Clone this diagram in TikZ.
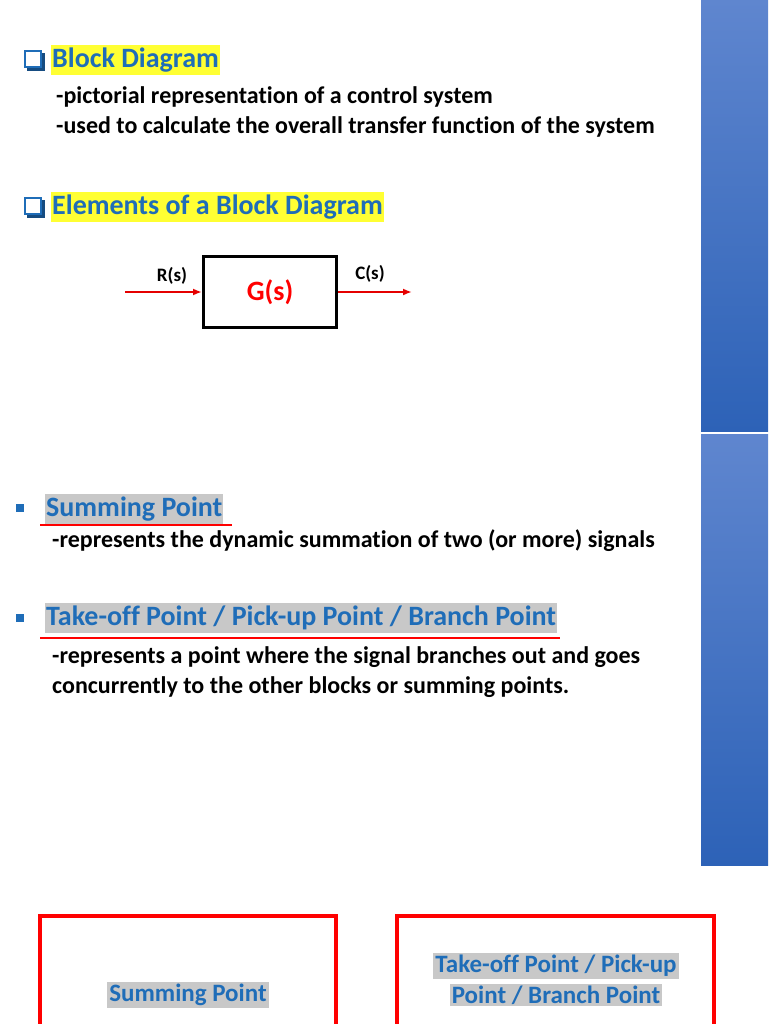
\documentclass[tikz,border=0pt]{standalone}
\usepackage{fontspec}
\setmainfont{Carlito}[Ligatures=NoCommon]
\usetikzlibrary{arrows.meta}
\begin{document}
\begin{tikzpicture}[x=1pt,y=-1pt,
  head/.style={anchor=west,font=\bfseries\fontsize{28}{30}\selectfont,text=hblue,inner xsep=1pt,inner ysep=3pt},
  body/.style={anchor=west,font=\bfseries\fontsize{24}{26}\selectfont,inner sep=0pt},
  sig/.style={red!90!black,line width=2pt,-{Latex[length=9pt,width=7pt]}},
  lbl/.style={font=\bfseries\fontsize{19}{21}\selectfont}]
\definecolor{hblue}{HTML}{1F6DB8}
\definecolor{barT}{HTML}{5F86CF}
\definecolor{barB}{HTML}{2D62B7}
\definecolor{hyel}{HTML}{FFFF33}
\definecolor{hgray}{HTML}{C8C8C8}
\useasboundingbox (0,0) rectangle (768,1024);
% right bars
\shade[top color=barT,bottom color=barB] (701,0) rectangle (768,431);
\shade[top color=barT,bottom color=barB] (701,434) rectangle (768,865);
% checkbox bullets
\foreach \yy in {60,207}{
  \fill[hblue!70!black] (27,\yy-7) rectangle (45,\yy+11);
  \fill[white] (25,\yy-9) rectangle (41,\yy+7);
  \draw[hblue,line width=1.6pt] (25,\yy-9) rectangle (41,\yy+7);
}
\node[head,fill=hyel] (h1) at (51,60) {Block Diagram};
\node[body] (b1) at (56,97) {-pictorial representation of a control system};
\node[body] (b2) at (56,127) {-used to calculate the overall transfer function of the system};
\node[head,fill=hyel] (h2) at (51,207) {Elements of a Block Diagram};
% block
\node[draw,line width=3pt,minimum width=133pt,minimum height=71pt,text=red,font=\bfseries\fontsize{28}{30}\selectfont] (G) at (270,292) {G(s)};
\coordinate (in) at (125,292);
\coordinate (out) at (412,292);
\draw[sig] (in) -- (G.west);
\draw[sig] (G.east) -- (out);
\node[lbl] (R) at (172,276) {R(s)};
\node[lbl] (C) at (370,274) {C(s)};
% summing point
\fill[hblue] (16,504) rectangle (24,512);
\node[head,fill=hgray] (sp) at (45,509) {Summing Point};
\draw[red,line width=2pt] (40,525) -- (232,525);
\node[body] (b3) at (52,541) {-represents the dynamic summation of two (or more) signals};
% take-off
\fill[hblue] (16,614) rectangle (24,622);
\node[head,fill=hgray] (tp) at (45,618) {Take-off Point / Pick-up Point / Branch Point};
\draw[red,line width=2pt] (40,638) -- (560,638);
\node[body] (b4) at (52,657) {-represents a point where the signal branches out and goes};
\node[body] (b5) at (52,687) {concurrently to the other blocks or summing points.};
% bottom boxes
\draw[red,line width=3.5pt] (40,1030) -- (40,916) -- (336,916) -- (336,1030);
\draw[red,line width=3.5pt] (397,1030) -- (397,916) -- (714,916) -- (714,1030);
\node[font=\bfseries\fontsize{25}{27}\selectfont,text=hblue,fill=hgray,inner sep=2pt] (s2) at (188,995) {Summing Point};
\node[font=\bfseries\fontsize{25}{27}\selectfont,text=hblue,fill=hgray,inner sep=2pt] (t2a) at (556,966) {Take-off Point / Pick-up};
\node[font=\bfseries\fontsize{25}{27}\selectfont,text=hblue,fill=hgray,inner sep=2pt] (t2b) at (556,995) {Point / Branch Point};
\end{tikzpicture}
\end{document}
